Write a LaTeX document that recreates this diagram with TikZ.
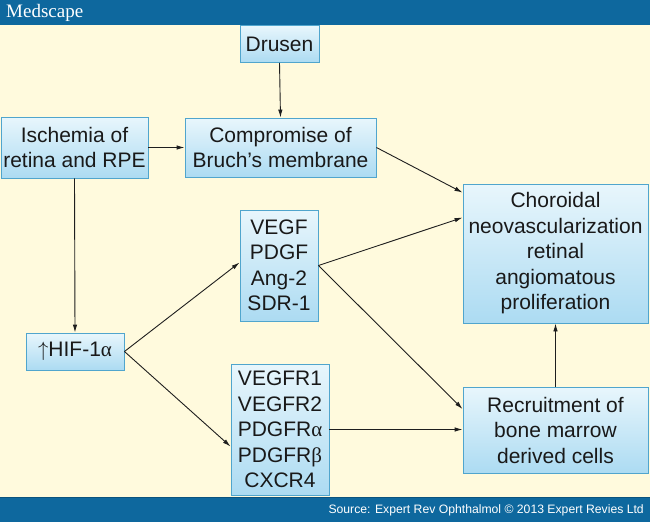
\documentclass[tikz,border=0pt]{standalone}
\usepackage{fontspec}
\setmainfont{Liberation Sans}
\newfontfamily\logofont{Liberation Serif}
\usetikzlibrary{arrows.meta}
\definecolor{bgcream}{RGB}{255,250,221}
\definecolor{barblue}{RGB}{14,104,158}
\definecolor{boxtop}{RGB}{232,246,252}
\definecolor{boxbot}{RGB}{172,219,242}
\definecolor{boxline}{RGB}{80,165,205}
\definecolor{txtdark}{RGB}{25,25,25}
\definecolor{arrcol}{RGB}{30,30,30}
\newcommand{\gralpha}{{\logofont α}}
\newcommand{\grbeta}{{\logofont β}}
\tikzset{
  fbox/.style={draw=boxline, line width=0.9pt, top color=boxtop, bottom color=boxbot,
    align=center, inner sep=0pt, text=txtdark,
    font=\fontsize{21}{25.5}\selectfont},
  conn/.style={draw=arrcol, line width=0.9pt, -{Latex[length=8pt,width=4.5pt]}}
}
\begin{document}
\begin{tikzpicture}[x=1pt,y=-1pt]
\useasboundingbox (0,0) rectangle (650,522);
\fill[bgcream] (0,0) rectangle (650,522);
\fill[barblue] (0,0) rectangle (650,25);
\fill[barblue] (0,497) rectangle (650,522);
\draw[barblue!80!black, line width=0.8pt] (0,497.4) -- (650,497.4);
\node[anchor=west, text=white, font=\logofont\fontsize{19}{20}\selectfont, inner sep=0pt] (logo) at (6,12.5) {Medscape};
\node[anchor=east, text=white, font=\fontsize{12.2}{13}\selectfont, inner sep=0pt] (src) at (644,510) {Source: Expert Rev Ophthalmol \textcopyright{} 2013 Expert Revies Ltd};

\node[fbox, minimum width=79pt, minimum height=37pt] (drusen) at (279.5,44) {Drusen};
\node[fbox, minimum width=147pt, minimum height=61pt] (isch) at (74.5,147.5) {Ischemia of\\retina and RPE};
\node[fbox, minimum width=191pt, minimum height=59pt] (comp) at (280.5,147.5) {Compromise of\\Bruch's membrane};
\node[fbox, minimum width=185pt, minimum height=139pt] (chor) at (555.5,253.5) {Choroidal\\neovascularization\\retinal\\angiomatous\\proliferation};
\node[fbox, minimum width=78pt, minimum height=111pt] (vegf) at (279,265.5) {VEGF\\PDGF\\Ang-2\\SDR-1};
\node[fbox, minimum width=98pt, minimum height=37pt] (hif) at (75,351.5) {$\uparrow$HIF-1\gralpha};
\node[fbox, minimum width=98pt, minimum height=131pt] (vegfr) at (280,429.5) {VEGFR1\\VEGFR2\\PDGFR\gralpha\\PDGFR\grbeta\\CXCR4};
\node[fbox, minimum width=185pt, minimum height=86pt] (recr) at (555.5,430) {Recruitment of\\bone marrow\\derived cells};

\draw[conn] (drusen.south) -- (comp.north);
\draw[conn] (isch.east) -- (comp.west);
\draw[conn] (isch.south) -- (hif.north);
\draw[conn] (comp.east) -- ([yshift=-9pt]chor.north west);
\draw[conn] (vegf.east) -- ([yshift=-34pt]chor.north west);
\draw[conn] (vegf.east) -- ([yshift=21pt]recr.west);
\draw[conn] (hif.east) -- ([yshift=3pt]vegf.west);
\draw[conn] (hif.east) -- ([yshift=-17pt]vegfr.west);
\draw[conn] (vegfr.east) -- (vegfr.east -| recr.west);
\draw[conn] (recr.north) -- (chor.south);
\end{tikzpicture}
\end{document}
